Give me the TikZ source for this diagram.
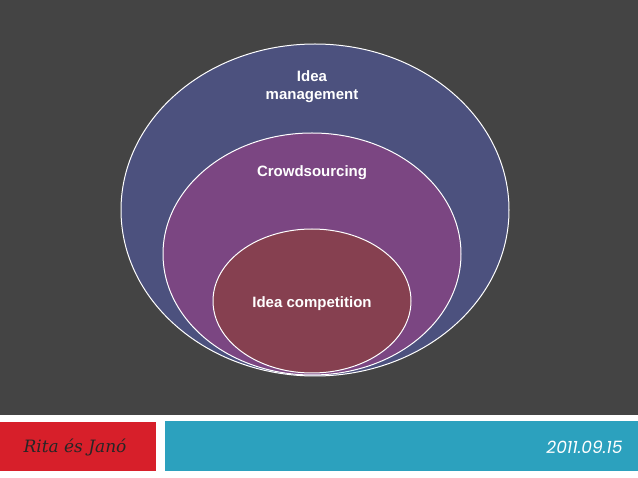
\documentclass[tikz,border=0pt]{standalone}
\usepackage{fontspec}
\setmainfont{Liberation Sans}
\newfontfamily\namefont{DejaVu Serif}
\newfontfamily\datefont{Poppins}
\usepackage{xcolor}
\usepackage{tikz}
\usetikzlibrary{positioning}
\definecolor{fond}{RGB}{68,68,68}
\definecolor{gestion}{RGB}{76,81,126}
\definecolor{foule}{RGB}{123,70,130}
\definecolor{concours}{RGB}{134,64,80}
\definecolor{rouge}{RGB}{215,31,42}
\definecolor{bleu}{RGB}{44,161,190}
\tikzset{
  cercle/.style={draw=white,line width=1pt},
  titre/.style={text=white,align=center,font=\bfseries\fontsize{15}{18}\selectfont}
}

\begin{document}
\begin{tikzpicture}[x=1pt,y=-1pt]
      \fill[white](0,0) rectangle (638,478);
      \fill[fond](0,0) rectangle (638,415);
      % nested ellipses
      \filldraw[cercle,fill=gestion](315,210) ellipse (194 and 166);
      \filldraw[cercle,fill=foule](312,254) ellipse (149 and 121);
      \filldraw[cercle,fill=concours](312,301) ellipse (99 and 72);
      \node[titre] (gest) at (312,87){Idea\\management};
      \node[titre] (foul) at (312,173){Crowdsourcing};
      \node[titre] (conc) at (312,304){Idea competition};
      % footer
      \fill[rouge](0,422) rectangle (156,471);
      \fill[bleu](165,421) rectangle (638,471);
      \node[font=\namefont\itshape\fontsize{17}{18}\selectfont,text=black!85] (nom) at (75,447){Rita és Janó};
      \node[font=\datefont\itshape\fontsize{17}{18}\selectfont,text=white,anchor=east] (date) at (626,447){2011.09.15};
    \end{tikzpicture}
\end{document}
